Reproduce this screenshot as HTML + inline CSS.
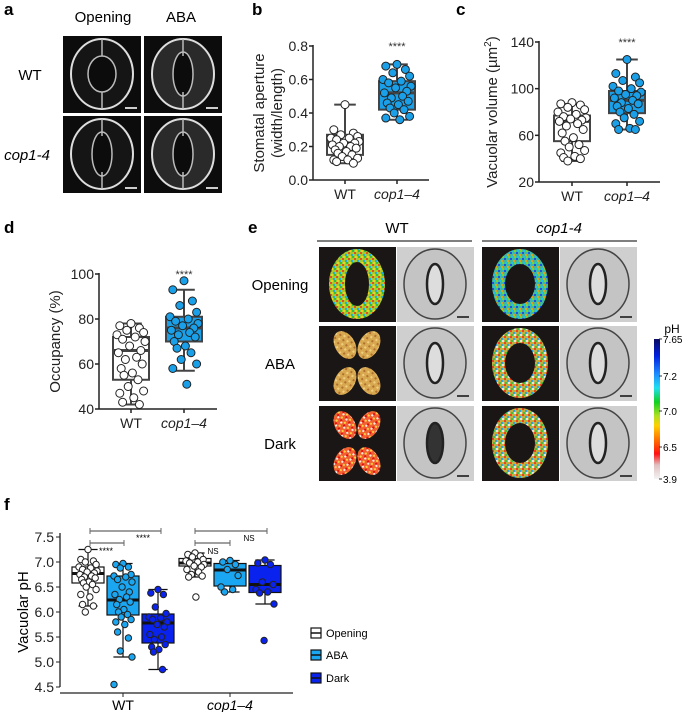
<!DOCTYPE html>
<html><head><meta charset="utf-8"><style>
html,body{margin:0;padding:0;background:#fff;}
svg{display:block;font-family:"Liberation Sans",Arial,sans-serif;}
</style></head><body>
<svg id="fig" width="685" height="712" viewBox="0 0 685 712" xmlns="http://www.w3.org/2000/svg">
<defs>
 <linearGradient id="cbar" x1="0" y1="0" x2="0" y2="1">
  <stop offset="0" stop-color="#0a0a60"/><stop offset="0.12" stop-color="#0020e0"/><stop offset="0.25" stop-color="#1e8cff"/>
  <stop offset="0.35" stop-color="#20e0f0"/><stop offset="0.45" stop-color="#10d020"/><stop offset="0.55" stop-color="#b0e020"/>
  <stop offset="0.62" stop-color="#ffd000"/><stop offset="0.72" stop-color="#ff7000"/><stop offset="0.82" stop-color="#ff1010"/>
  <stop offset="0.9" stop-color="#e0c0c0"/><stop offset="1" stop-color="#f4f4f4"/>
 </linearGradient>
 <pattern id="pGreen" width="6" height="6" patternUnits="userSpaceOnUse"><rect width="6" height="6" fill="#a8c830"/><rect x="0" y="0" width="2" height="2" fill="#e05020"/><rect x="3" y="2" width="2" height="2" fill="#20b0e0"/><rect x="1" y="4" width="2" height="2" fill="#f0d020"/><rect x="4" y="4" width="2" height="2" fill="#30c040"/></pattern>
 <pattern id="pBlue" width="6" height="6" patternUnits="userSpaceOnUse"><rect width="6" height="6" fill="#40b8a0"/><rect x="0" y="0" width="2" height="2" fill="#2050e0"/><rect x="3" y="2" width="2" height="2" fill="#e0a020"/><rect x="1" y="4" width="2" height="2" fill="#20c0f0"/><rect x="4" y="4" width="2" height="2" fill="#80d030"/></pattern>
 <pattern id="pTan" width="6" height="6" patternUnits="userSpaceOnUse"><rect width="6" height="6" fill="#d8a850"/><rect x="0" y="0" width="2" height="2" fill="#f0d080"/><rect x="3" y="3" width="2" height="2" fill="#b07030"/></pattern>
 <pattern id="pRed" width="6" height="6" patternUnits="userSpaceOnUse"><rect width="6" height="6" fill="#f06030"/><rect x="0" y="0" width="2" height="2" fill="#f8e8e0"/><rect x="3" y="2" width="2" height="2" fill="#ffd040"/><rect x="1" y="4" width="2" height="2" fill="#e01010"/></pattern>
 <pattern id="pMix" width="6" height="6" patternUnits="userSpaceOnUse"><rect width="6" height="6" fill="#c0b040"/><rect x="0" y="0" width="2" height="2" fill="#f04020"/><rect x="3" y="2" width="2" height="2" fill="#30a0e0"/><rect x="1" y="4" width="2" height="2" fill="#40c040"/><rect x="4" y="4" width="2" height="2" fill="#f0e0e0"/></pattern>
</defs>
<g id="panels"></g>
</svg>
<script>
// ---- data ----
const bCats = ["WT","cop1–4"];
const bTicks = [0.0,0.2,0.4,0.6,0.8];
const bStatsWT = [0.10,0.15,0.22,0.27,0.45];
const bStatsCop = [0.36,0.42,0.52,0.59,0.69];
const bPtsWT = [0.45,0.30,0.28,0.27,0.26,0.25,0.25,0.24,0.23,0.22,0.22,0.21,0.20,0.20,0.19,0.18,0.17,0.16,0.15,0.14,0.13,0.12,0.12,0.11,0.10];
const bPtsCop = [0.69,0.68,0.66,0.64,0.62,0.60,0.59,0.58,0.56,0.55,0.53,0.52,0.50,0.49,0.47,0.46,0.45,0.43,0.42,0.40,0.38,0.37,0.36];

const cTicks = [20,60,100,140];
const cStatsWT = [38,55,72,77,87];
const cStatsCop = [65,79,90,98,125];
const cPtsWT = [88,87,86,84,82,80,78,76,75,74,73,72,70,68,65,62,58,55,52,50,47,45,42,41,40,38];
const cPtsCop = [125,113,110,107,105,102,100,98,97,95,94,92,90,88,87,85,83,80,78,75,72,70,66,65,65];

const dTicks = [40,60,80,100];
const dStatsWT = [42,53,66,72,78];
const dStatsCop = [57,70,76,81,93];
const dPtsWT = [78,77,76,75,74,73,72,71,70,68,66,65,63,62,60,58,56,55,53,50,48,47,45,43,42];
const dPtsCop = [97,93,88,86,83,81,80,79,78,77,76,75,74,73,72,70,68,67,65,62,60,58,51];

const fTicks = [4.5,5.0,5.5,6.0,6.5,7.0,7.5];
const fGroups = ["WT","cop1–4"];
const fConds = ["Opening","ABA","Dark"];
const fStats = [
 [6.12,6.58,6.77,6.90,7.25],[5.10,5.94,6.24,6.72,6.97],[4.85,5.38,5.78,5.96,6.45],
 [6.70,6.92,6.98,7.07,7.18],[6.40,6.52,6.84,6.97,7.03],[6.16,6.39,6.55,6.93,7.04]];
const fPts = [
 [7.25,7.05,7.02,7.0,6.95,6.9,6.88,6.85,6.82,6.8,6.78,6.75,6.72,6.7,6.68,6.65,6.6,6.58,6.55,6.5,6.45,6.35,6.3,6.15,6.12,6.0],
 [6.97,6.95,6.9,6.88,6.75,6.72,6.7,6.65,6.6,6.5,6.4,6.35,6.3,6.25,6.2,6.15,6.05,6.0,5.95,5.9,5.85,5.8,5.75,5.6,5.48,5.22,5.1,4.55],
 [6.45,6.38,6.35,6.1,5.97,5.9,5.88,5.85,5.8,5.75,5.7,5.55,5.5,5.45,5.35,5.3,5.25,5.2,4.85],
 [7.18,7.15,7.12,7.1,7.05,7.02,7.0,6.98,6.95,6.92,6.9,6.85,6.8,6.75,6.72,6.7,6.3],
 [7.03,7.0,6.95,6.85,6.73,6.5,6.45,6.4],
 [7.04,6.98,6.95,6.6,6.55,6.45,6.4,6.38,6.16,5.43]];
const cbTicks = ["7.65","7.2","7.0","6.5","3.9"];

const NS="http://www.w3.org/2000/svg";
const root=document.getElementById('panels');
function el(tag,attrs,parent,text){const e=document.createElementNS(NS,tag);for(const k in attrs)e.setAttribute(k,attrs[k]);if(text!==undefined)e.textContent=text;(parent||root).appendChild(e);return e;}
function lin(d0,d1,r0,r1){return v=>r0+(v-d0)/(d1-d0)*(r1-r0);}
const jit=[0,-8,6,-3,9,-10,3,-6,10,-1,7,-9,4,-4,8,-7,1,-5,5,-2,9,-8,2,-6,6,-3,10,-10,0];

function label(x,y,t,name){const e=el('text',{x:x,y:y,'font-size':17,'font-weight':'bold'},root,t);

}

function boxPlot(g,y,cx,hw,st,fill,stroke,sw,medw,name){
 const b=el('g',{},g);
 
 
 el('line',{x1:cx,x2:cx,y1:y(st[0]),y2:y(st[4]),stroke:stroke,'stroke-width':sw},b);
 el('line',{x1:cx-hw*0.6,x2:cx+hw*0.6,y1:y(st[4]),y2:y(st[4]),stroke:stroke,'stroke-width':sw},b);
 el('line',{x1:cx-hw*0.6,x2:cx+hw*0.6,y1:y(st[0]),y2:y(st[0]),stroke:stroke,'stroke-width':sw},b);
 el('rect',{x:cx-hw,y:y(st[3]),width:2*hw,height:y(st[1])-y(st[3]),fill:fill,stroke:stroke,'stroke-width':sw},b);
 el('line',{x1:cx-hw,x2:cx+hw,y1:y(st[2]),y2:y(st[2]),stroke:stroke,'stroke-width':medw},b);
 return b;
}
function points(g,y,cx,pts,fill,r,spread,name){
 pts.forEach((v,i)=>{const c=el('circle',{cx:cx+jit[i%jit.length]*spread,cy:y(v),r:r,fill:fill,stroke:'#222','stroke-width':1},g);
 
 });
}
function simplePanel(o){
 const g=el('g',{});
 
 
 const y=lin(o.d0,o.d1,o.py0,o.py1);
 el('line',{x1:o.ax,x2:o.ax,y1:y(o.d1)-1,y2:y(o.d0),stroke:'#222','stroke-width':1.5},g);
 el('line',{x1:o.ax,x2:o.xend,y1:y(o.d0),y2:y(o.d0),stroke:'#222','stroke-width':1.5},g);
 o.ticks.forEach(t=>{el('line',{x1:o.ax-4,x2:o.ax,y1:y(t),y2:y(t),stroke:'#222','stroke-width':1.5},g);
  const tl=el('text',{x:o.ax-5,y:y(t)+5,'font-size':14,'text-anchor':'end',fill:'#222'},g,o.fmt(t));
  
  });
 [o.cxW,o.cxC].forEach((cx,i)=>{el('line',{x1:cx,x2:cx,y1:y(o.d0),y2:y(o.d0)+4,stroke:'#222','stroke-width':1.5},g);
  const xl=el('text',{x:cx,y:y(o.d0)+19,'font-size':14,'text-anchor':'middle','font-style':i?'italic':'normal',fill:'#222'},g,bCats[i]);
  
  });
 boxPlot(g,y,o.cxW,18,o.sW,'#fff','#444',2,3,'box-wt');
 boxPlot(g,y,o.cxC,18,o.sC,'#1aa0e8','#444',2,3,'box-cop1-4');
 points(g,y,o.cxW,o.pW,'#fff',4,1.4,'point-wt');
 points(g,y,o.cxC,o.pC,'#1aa0e8',4,1.4,'point-cop1-4');
 const st=el('text',{x:o.cxC,y:y(o.d1)+4,'font-size':11,'text-anchor':'middle',fill:'#333'},g,'****');
 
 
 const yl=el('text',{x:0,y:0,'font-size':15,'text-anchor':'middle',fill:'#222',transform:`translate(${o.ylx},${(y(o.d0)+y(o.d1))/2}) rotate(-90)`},g);
 
 
 o.ylab(yl);
}

// panel labels
label(4,15,'a','panel-label-a');label(252,15,'b','panel-label-b');label(456,15,'c','panel-label-c');
label(4,233,'d','panel-label-d');label(248,233,'e','panel-label-e');label(4,510,'f','panel-label-f');

// panel b
simplePanel({name:'panel-b-aperture',d0:0,d1:0.8,py0:180,py1:46,ax:313,xend:429,cxW:345,cxC:397,ticks:bTicks,fmt:t=>t.toFixed(1),
 sW:bStatsWT,sC:bStatsCop,pW:bPtsWT,pC:bPtsCop,ylx:272,ylab:t=>{el('tspan',{x:0,dy:-8},t,'Stomatal aperture');el('tspan',{x:0,dy:18},t,'(width/length)');}});
// panel c
simplePanel({name:'panel-c-vacuolar-volume',d0:20,d1:140,py0:182,py1:42,ax:539,xend:660,cxW:572,cxC:627,ticks:cTicks,fmt:t=>String(t),
 sW:cStatsWT,sC:cStatsCop,pW:cPtsWT,pC:cPtsCop,ylx:497,ylab:t=>{t.textContent='Vacuolar volume (µm';el('tspan',{'font-size':10,dy:-6},t,'2');el('tspan',{dy:6},t,')');}});
// panel d
simplePanel({name:'panel-d-occupancy',d0:40,d1:100,py0:409,py1:274,ax:99,xend:217,cxW:131,cxC:184,ticks:dTicks,fmt:t=>String(t),
 sW:dStatsWT,sC:dStatsCop,pW:dPtsWT,pC:dPtsCop,ylx:60,ylab:t=>{t.textContent='Occupancy (%)';}});

// panel a images
(function(){
 const g=el('g',{});
 
 
 el('text',{x:103,y:22,'font-size':15,'text-anchor':'middle'},g,'Opening');
 el('text',{x:181,y:22,'font-size':15,'text-anchor':'middle'},g,'ABA');
 el('text',{x:30,y:80,'font-size':15,'text-anchor':'middle'},g,'WT');
 el('text',{x:27,y:160,'font-size':15,'text-anchor':'middle','font-style':'italic'},g,'cop1-4');
 [[63,36],[144,36],[63,116],[144,116]].forEach(([x,yy],i)=>{
  el('rect',{x:x,y:yy,width:78,height:77,fill:'#0c0c0c'},g);
  const cx=x+39,cy=yy+38;
  el('ellipse',{cx:cx,cy:cy,rx:31,ry:35,fill:i%2?'#2a2a2a':'#151515',stroke:'#ddd','stroke-width':2},g);
  el('ellipse',{cx:cx,cy:cy,rx:i==0?14:10,ry:i==0?18:22,fill:'#0c0c0c',stroke:'#bbb','stroke-width':1.5},g);
  el('line',{x1:cx,x2:cx,y1:cy-35,y2:cy-18,stroke:'#bbb','stroke-width':1.5},g);
  el('line',{x1:cx,x2:cx,y1:cy+18,y2:cy+35,stroke:'#bbb','stroke-width':1.5},g);
  el('line',{x1:x+62,x2:x+74,y1:yy+72,y2:yy+72,stroke:'#ccc','stroke-width':2},g);
 });
})();

// panel e images
(function(){
 const g=el('g',{});
 
 
 el('text',{x:397,y:233,'font-size':15,'text-anchor':'middle'},g,'WT');
 el('text',{x:559,y:233,'font-size':15,'text-anchor':'middle','font-style':'italic'},g,'cop1-4');
 el('line',{x1:317,x2:472,y1:241,y2:241,stroke:'#333','stroke-width':1.2},g);
 el('line',{x1:482,x2:637,y1:241,y2:241,stroke:'#333','stroke-width':1.2},g);
 const rows=[[247,'Opening'],[326,'ABA'],[406,'Dark']];
 const fills=[['pGreen','pBlue'],['pTan','pMix'],['pRed','pMix']];
 rows.forEach(([yy,lab],r)=>{
  el('text',{x:280,y:yy+43,'font-size':15,'text-anchor':'middle'},g,lab);
  [[319,0],[482,1]].forEach(([x,c])=>{
   el('rect',{x:x,y:yy,width:77,height:75,fill:'#1a1616'},g);
   const cx=x+38,cy=yy+37;
   if(r>0&&c==0){
    [[-12,-18],[12,-18],[-12,18],[12,18]].forEach(([dx,dy])=>el('ellipse',{cx:cx+dx,cy:cy+dy,rx:10,ry:15,fill:'url(#'+fills[r][c]+')',transform:`rotate(${dx*dy>0?-30:30} ${cx+dx} ${cy+dy})`},g));
   } else {
    el('ellipse',{cx:cx,cy:cy,rx:28,ry:35,fill:'url(#'+fills[r][c]+')'},g);
    el('ellipse',{cx:cx,cy:cy,rx:c?15:12,ry:c?20:22,fill:'#1a1616'},g);
   }
   const bx=x+78;
   el('rect',{x:bx,y:yy,width:77,height:75,fill:'#cfcfcf'},g);
   el('ellipse',{cx:bx+38,cy:cy,rx:31,ry:35,fill:'#c4c4c4',stroke:'#444','stroke-width':1.5},g);
   el('ellipse',{cx:bx+38,cy:cy,rx:8,ry:20,fill:r==2&&c==0?'#333':'#ddd',stroke:'#222','stroke-width':2.5},g);
   el('line',{x1:bx+60,x2:bx+72,y1:yy+70,y2:yy+70,stroke:'#111','stroke-width':1.5},g);
  });
 });
 const cb=el('rect',{x:654,y:339,width:6,height:140,fill:'url(#cbar)'},g);
 
 
 el('text',{x:672,y:333,'font-size':12,'text-anchor':'middle'},g,'pH');
 const cbY=[339,376,411,447,479];
 cbTicks.forEach((t,i)=>{el('line',{x1:659,x2:662,y1:cbY[i],y2:cbY[i],stroke:'#333'},g);
  el('text',{x:663,y:cbY[i]+4,'font-size':10},g,t);});
})();

// panel f
(function(){
 const g=el('g',{});
 
 
 const y=lin(4.5,7.5,687,537);
 const ax=60,x0=693;
 el('line',{x1:ax,x2:ax,y1:533,y2:y(4.5),stroke:'#222','stroke-width':1.3},g);
 el('line',{x1:ax,x2:293,y1:x0,y2:x0,stroke:'#222','stroke-width':1.3},g);
 fTicks.forEach(t=>{el('line',{x1:ax-4,x2:ax,y1:y(t),y2:y(t),stroke:'#222'},g);
  el('text',{x:ax-6,y:y(t)+5,'font-size':14,'text-anchor':'end',fill:'#222'},g,t.toFixed(1));});
 const yl=el('text',{x:0,y:0,'font-size':15,'text-anchor':'middle',transform:`translate(28,${y(6)}) rotate(-90)`},g,'Vacuolar pH');
 
 
 const gx=[123,230];
 fGroups.forEach((n,i)=>{el('line',{x1:gx[i],x2:gx[i],y1:x0,y2:x0+4,stroke:'#222'},g);
  el('text',{x:gx[i],y:x0+17,'font-size':14,'text-anchor':'middle','font-style':i?'italic':'normal'},g,n);});
 const fc=['#ffffff','#1aa6f0','#0a22ee'];
 fStats.forEach((st,k)=>{const gi=Math.floor(k/3),ci=k%3;const cx=gx[gi]+(ci-1)*35;
  boxPlot(g,y,cx,16,st,fc[ci],'#111',1.2,3,'box-'+fGroups[gi].replace('–','-').toLowerCase()+'-'+fConds[ci].toLowerCase());
  points(g,y,cx,fPts[k],fc[ci],3.2,0.9,'point-'+fConds[ci].toLowerCase());});
 // significance
 const sig=[[90,161,531],[90,124,543],[195,267,531],[195,230,543]];
 sig.forEach(([a,b,yy])=>{el('line',{x1:a,x2:b,y1:yy,y2:yy,stroke:'#666','stroke-width':1.2},g);
  el('line',{x1:a,x2:a,y1:yy-3,y2:yy+3,stroke:'#666'},g);el('line',{x1:b,x2:b,y1:yy-3,y2:yy+3,stroke:'#666'},g);});
 el('text',{x:106,y:554,'font-size':9,'text-anchor':'middle'},g,'****');
 el('text',{x:143,y:541,'font-size':9,'text-anchor':'middle'},g,'****');
 el('text',{x:213,y:554,'font-size':8,'text-anchor':'middle'},g,'NS');
 el('text',{x:249,y:541,'font-size':8,'text-anchor':'middle'},g,'NS');
 const ly=[633,655,678];
 fConds.forEach((c,i)=>{const lg=el('g',{},g);
  
  
  el('rect',{x:311,y:ly[i]-5,width:10,height:10,fill:fc[i],stroke:'#111','stroke-width':1.2},lg);
  el('line',{x1:311,x2:321,y1:ly[i],y2:ly[i],stroke:'#111','stroke-width':1.5},lg);
  el('text',{x:326,y:ly[i]+4,'font-size':11},lg,c);});
})();
</script>
</body></html>
